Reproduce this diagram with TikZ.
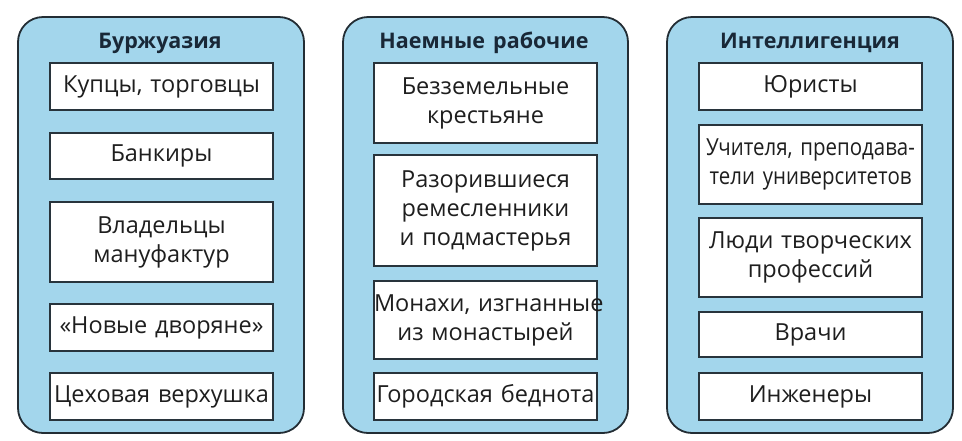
\documentclass[tikz,border=0pt]{standalone}
\usepackage{fontspec}
\setmainfont{Open Sans}
\newfontfamily\condfont[FakeStretch=0.87]{Open Sans}
\newcommand\wspTitle{\spaceskip=0.38em\relax}
\newcommand\wspItem{\spaceskip=0.42em\relax}
\newcommand\wspCond{\spaceskip=0.3em\relax}
\definecolor{panelfill}{RGB}{163,214,236}
\definecolor{panelline}{RGB}{35,45,52}
\definecolor{boxline}{RGB}{40,52,60}
\definecolor{titlec}{RGB}{25,40,55}
\definecolor{textc}{RGB}{30,30,30}
\begin{document}
\begin{tikzpicture}[x=1pt,y=-1pt,
  panel/.style={draw=panelline, line width=1.8pt, fill=panelfill, rounded corners=25pt,
    minimum width=286pt, minimum height=416pt, inner sep=0pt},
  ptitle/.style={font=\fontsize{21.5}{25}\selectfont\bfseries\wspTitle, text=titlec, inner sep=0pt},
  item/.style={draw=boxline, line width=1.3pt, fill=white, inner sep=0pt, align=center,
    text width=223pt, minimum width=223pt, text=textc,
    font=\fontsize{23.5}{29}\selectfont\wspItem}]
\useasboundingbox (0,0) rectangle (962,440);
\fill[white] (0,0) rectangle (962,440);
% panels
\node[panel] (p1) at (161,225) {};
\node[panel,minimum width=285pt] (p2) at (485.5,225) {};
\node[panel] (p3) at (810,225) {};
% titles
\node[ptitle] (t1) at (160,43) {Буржуазия};
\node[ptitle] (t2) at (484,43) {Наемные рабочие};
\node[ptitle] (t3) at (810,43) {Интеллигенция};
% column 1
\node[item,minimum height=47pt] (a1) at (161.5,86.5) {Купцы, торговцы};
\node[item,minimum height=46pt] (a2) at (161.5,156) {Банкиры};
\node[item,minimum height=80pt] (a3) at (161.5,242) {Владельцы\\мануфактур};
\node[item,minimum height=47pt] (a4) at (161.5,327.5) {«Новые дворяне»};
\node[item,minimum height=47pt] (a5) at (161.5,396.5) {Цеховая верхушка};
% column 2
\node[item,minimum height=80pt] (b1) at (485.5,103) {Безземельные\\крестьяне};
\node[item,minimum height=111pt] (b2) at (485.5,210.5) {Разорившиеся\\ремесленники\\и подмастерья};
\node[item,minimum height=78pt,font=\fontsize{23.5}{29}\selectfont\wspCond] (b3) at (485.5,320) {\mbox{Монахи, изгнанные}\\из монастырей};
\node[item,minimum height=47pt,font=\fontsize{23.5}{29}\selectfont\wspCond] (b4) at (485.5,396.5) {Городская беднота};
% column 3
\node[item,minimum height=47pt] (c1) at (810.5,86.5) {Юристы};
\node[item,minimum height=79pt,font=\fontsize{23.5}{29}\condfont\wspCond] (c2) at (810.5,164.5) {Учителя, преподава-\\тели университетов};
\node[item,minimum height=79pt] (c3) at (810.5,257.5) {Люди творческих\\профессий};
\node[item,minimum height=45pt] (c4) at (810.5,334.5) {Врачи};
\node[item,minimum height=47pt] (c5) at (810.5,396.5) {Инженеры};
\end{tikzpicture}
\end{document}
